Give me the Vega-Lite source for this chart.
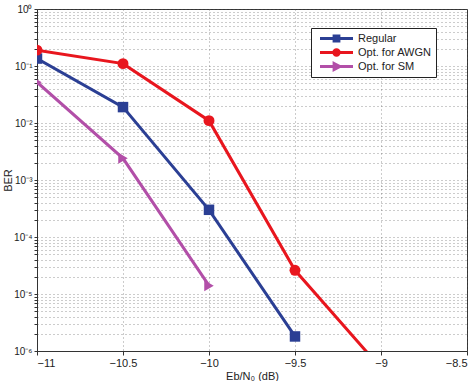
{
  "$schema": "https://vega.github.io/schema/vega-lite/v6.json",
  "width": 430,
  "height": 342,
  "autosize": {"type": "none"},
  "padding": {"left": 37, "top": 9, "right": 7, "bottom": 30},
  "background": "white",
  "config": {
    "font": "Liberation Sans",
    "view": {"stroke": "#333", "strokeWidth": 1},
    "axis": {"labelFont": "Liberation Sans", "titleFont": "Liberation Sans", "labelFontSize": 11, "titleFontSize": 11, "titleFontWeight": "normal", "labelColor": "#222", "titleColor": "#222", "domainColor": "#333", "tickColor": "#333", "gridColor": "#555", "gridDash": [1, 3], "gridOpacity": 0.6, "gridWidth": 1}
  },
  "data": {
    "values": [
      {"x": -11, "ber": 0.135, "series": "Regular"},
      {"x": -10.5, "ber": 0.019, "series": "Regular"},
      {"x": -10, "ber": 0.0003, "series": "Regular"},
      {"x": -9.5, "ber": 0.0000018, "series": "Regular"},
      {"x": -11, "ber": 0.19, "series": "Opt. for AWGN"},
      {"x": -10.5, "ber": 0.11, "series": "Opt. for AWGN"},
      {"x": -10, "ber": 0.011, "series": "Opt. for AWGN"},
      {"x": -9.5, "ber": 0.000026, "series": "Opt. for AWGN"},
      {"x": -9, "ber": 0.0000005, "series": "Opt. for AWGN"},
      {"x": -11, "ber": 0.052, "series": "Opt. for SM"},
      {"x": -10.5, "ber": 0.0024, "series": "Opt. for SM"},
      {"x": -10, "ber": 0.000014, "series": "Opt. for SM"}
    ]
  },
  "encoding": {
    "x": {
      "field": "x", "type": "quantitative",
      "scale": {"domain": [-11, -8.5], "nice": false, "zero": false},
      "axis": {"values": [-11, -10.5, -10, -9.5, -9, -8.5], "format": "~g", "title": "Eb/N₀ (dB)", "titlePadding": 2, "tickSize": 4, "labelPadding": 2}
    },
    "y": {
      "field": "ber", "type": "quantitative",
      "scale": {"type": "log", "domain": [0.000001, 1], "nice": false},
      "axis": {
        "title": "BER", "titleX": -24, "tickSize": 3, "labelPadding": 2, "labelFontSize": 10,
        "values": [0.000001,0.000002,0.000003,0.000004,0.000005,0.000006,0.000007,0.000008,0.000009,
                   0.00001,0.00002,0.00003,0.00004,0.00005,0.00006,0.00007,0.00008,0.00009,
                   0.0001,0.0002,0.0003,0.0004,0.0005,0.0006,0.0007,0.0008,0.0009,
                   0.001,0.002,0.003,0.004,0.005,0.006,0.007,0.008,0.009,
                   0.01,0.02,0.03,0.04,0.05,0.06,0.07,0.08,0.09,
                   0.1,0.2,0.3,0.4,0.5,0.6,0.7,0.8,0.9,1],
        "labelExpr": "abs(log(datum.value)/LN10 - round(log(datum.value)/LN10)) < 0.001 ? ['10⁻⁶','10⁻⁵','10⁻⁴','10⁻³','10⁻²','10⁻¹','10⁰'][round(log(datum.value)/LN10)+6] : ''"
      }
    },
    "color": {
      "field": "series", "type": "nominal",
      "scale": {"domain": ["Regular", "Opt. for AWGN", "Opt. for SM"], "range": ["#2B3F94", "#E8161E", "#B24FA8"]},
      "legend": {
        "orient": "none", "legendX": 274, "legendY": 19, "title": null,
        "fillColor": "white", "strokeColor": "#222", "padding": 4,
        "labelFontSize": 11, "labelFont": "Liberation Sans", "labelColor": "#222",
        "symbolSize": 144, "rowPadding": 1, "clipHeight": 13, "symbolOffset": 14, "labelOffset": 14,
        "encode": {
          "symbols": {
            "update": {
              "shape": {"signal": "datum.value === 'Regular' ? 'M-2.75,0H2.75M-0.4,-0.4H0.4V0.4H-0.4Z' : datum.value === 'Opt. for AWGN' ? 'M-2.75,0H2.75M0.45,0A0.45,0.45 0 1,1 -0.45,0A0.45,0.45 0 1,1 0.45,0Z' : 'M-2.75,0H2.75M-0.4,-0.5L0.55,0L-0.4,0.5Z'"},
              "stroke": {"scale": "color", "field": "value"},
              "fill": {"scale": "color", "field": "value"},
              "strokeWidth": {"value": 3},
              "opacity": {"value": 1}
            }
          }
        }
      }
    }
  },
  "layer": [
    {"mark": {"type": "line", "strokeWidth": 3, "clip": true}},
    {
      "transform": [{"filter": "datum.series === 'Regular'"}],
      "mark": {"type": "point", "shape": "square", "filled": true, "opacity": 1, "clip": true, "size": 110}
    },
    {
      "transform": [{"filter": "datum.series === 'Opt. for AWGN'"}],
      "mark": {"type": "point", "shape": "circle", "filled": true, "opacity": 1, "clip": true, "size": 120}
    },
    {
      "transform": [{"filter": "datum.series === 'Opt. for SM'"}],
      "mark": {"type": "point", "shape": "triangle-right", "filled": true, "opacity": 1, "clip": true, "size": 120}
    }
  ]
}
